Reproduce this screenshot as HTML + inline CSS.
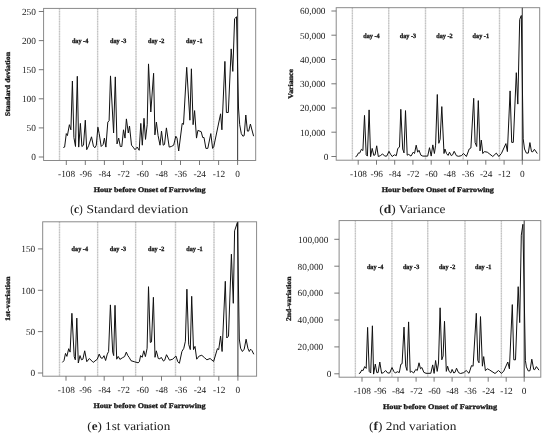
<!DOCTYPE html>
<html><head><meta charset="utf-8"><title>Figure</title>
<style>
html,body{margin:0;padding:0;background:#fff}
svg{display:block}
text{font-family:"Liberation Serif","DejaVu Serif",serif;fill:#1a1a1a;text-rendering:geometricPrecision}
.tl{font-size:9.3px}
.day{font-size:6.5px;font-weight:bold;stroke:#1a1a1a;stroke-width:0.3}
.al{font-size:7.1px;font-weight:bold;stroke:#1a1a1a;stroke-width:0.32}
.cap{font-size:12px;fill:#222}
.box{fill:none;stroke:#858585;stroke-width:0.95}
.dot{stroke:#dcdcdc;stroke-width:1.4}
.dot2{stroke:#c2c2c2;stroke-width:1.2;stroke-dasharray:1.25 1.25}
.zero{stroke:#4a4a4a;stroke-width:1.15}
.tick{stroke:#606060;stroke-width:0.85}
.ser{fill:none;stroke:#111;stroke-width:1.0;stroke-linejoin:miter;stroke-miterlimit:10}
</style></head><body>
<svg width="550" height="437" viewBox="0 0 550 437">
<rect width="550" height="437" fill="#fff"/>
<g class="ch">
<line x1="59.5" y1="8.4" x2="59.5" y2="160.5" class="dot"/>
<line x1="59.5" y1="8.4" x2="59.5" y2="160.5" class="dot2"/>
<line x1="97.6" y1="8.4" x2="97.6" y2="160.5" class="dot"/>
<line x1="97.6" y1="8.4" x2="97.6" y2="160.5" class="dot2"/>
<line x1="136.0" y1="8.4" x2="136.0" y2="160.5" class="dot"/>
<line x1="136.0" y1="8.4" x2="136.0" y2="160.5" class="dot2"/>
<line x1="175.2" y1="8.4" x2="175.2" y2="160.5" class="dot"/>
<line x1="175.2" y1="8.4" x2="175.2" y2="160.5" class="dot2"/>
<line x1="213.6" y1="8.4" x2="213.6" y2="160.5" class="dot"/>
<line x1="213.6" y1="8.4" x2="213.6" y2="160.5" class="dot2"/>
<rect x="43.6" y="8.4" width="212.1" height="152.1" class="box"/>
<line x1="237.6" y1="8.4" x2="237.6" y2="160.5" class="zero"/>
<line x1="38.8" y1="157.0" x2="43.6" y2="157.0" class="tick"/>
<text x="35.9" y="160.3" class="tl" font-size="8.9" text-anchor="end">0</text>
<line x1="38.8" y1="127.9" x2="43.6" y2="127.9" class="tick"/>
<text x="35.9" y="131.2" class="tl" font-size="8.9" text-anchor="end">50</text>
<line x1="38.8" y1="98.8" x2="43.6" y2="98.8" class="tick"/>
<text x="35.9" y="102.1" class="tl" font-size="8.9" text-anchor="end">100</text>
<line x1="38.8" y1="69.7" x2="43.6" y2="69.7" class="tick"/>
<text x="35.9" y="73.0" class="tl" font-size="8.9" text-anchor="end">150</text>
<line x1="38.8" y1="40.6" x2="43.6" y2="40.6" class="tick"/>
<text x="35.9" y="43.9" class="tl" font-size="8.9" text-anchor="end">200</text>
<line x1="38.8" y1="11.5" x2="43.6" y2="11.5" class="tick"/>
<text x="35.9" y="14.8" class="tl" font-size="8.9" text-anchor="end">250</text>
<line x1="66.3" y1="160.5" x2="66.3" y2="165.0" class="tick"/>
<text x="66.6" y="176.6" class="tl" font-size="8.7" text-anchor="middle">-108</text>
<line x1="85.3" y1="160.5" x2="85.3" y2="165.0" class="tick"/>
<text x="85.6" y="176.6" class="tl" font-size="8.7" text-anchor="middle">-96</text>
<line x1="104.4" y1="160.5" x2="104.4" y2="165.0" class="tick"/>
<text x="104.7" y="176.6" class="tl" font-size="8.7" text-anchor="middle">-84</text>
<line x1="123.4" y1="160.5" x2="123.4" y2="165.0" class="tick"/>
<text x="123.7" y="176.6" class="tl" font-size="8.7" text-anchor="middle">-72</text>
<line x1="142.4" y1="160.5" x2="142.4" y2="165.0" class="tick"/>
<text x="142.7" y="176.6" class="tl" font-size="8.7" text-anchor="middle">-60</text>
<line x1="161.5" y1="160.5" x2="161.5" y2="165.0" class="tick"/>
<text x="161.8" y="176.6" class="tl" font-size="8.7" text-anchor="middle">-48</text>
<line x1="180.5" y1="160.5" x2="180.5" y2="165.0" class="tick"/>
<text x="180.8" y="176.6" class="tl" font-size="8.7" text-anchor="middle">-36</text>
<line x1="199.5" y1="160.5" x2="199.5" y2="165.0" class="tick"/>
<text x="199.8" y="176.6" class="tl" font-size="8.7" text-anchor="middle">-24</text>
<line x1="218.6" y1="160.5" x2="218.6" y2="165.0" class="tick"/>
<text x="218.9" y="176.6" class="tl" font-size="8.7" text-anchor="middle">-12</text>
<line x1="237.6" y1="160.5" x2="237.6" y2="165.0" class="tick"/>
<text x="237.6" y="176.6" class="tl" font-size="8.7" text-anchor="middle">0</text>
<text x="71.9" y="42.6" class="day" textLength="16.4" lengthAdjust="spacingAndGlyphs">day -4</text>
<text x="110.0" y="42.6" class="day" textLength="16.4" lengthAdjust="spacingAndGlyphs">day -3</text>
<text x="148.0" y="42.6" class="day" textLength="16.4" lengthAdjust="spacingAndGlyphs">day -2</text>
<text x="186.1" y="42.6" class="day" textLength="16.4" lengthAdjust="spacingAndGlyphs">day -1</text>
<text x="93.8" y="192.0" class="al" textLength="111.7" lengthAdjust="spacingAndGlyphs">Hour before Onset of Farrowing</text>
<text transform="translate(9.9,116.2) rotate(-90)" class="al" textLength="64.3" lengthAdjust="spacingAndGlyphs">Standard deviation</text>
<text x="70.3" y="212.8" class="cap" textLength="12.5" lengthAdjust="spacingAndGlyphs">(<tspan font-weight="bold">c</tspan>)</text>
<text x="86.4" y="212.8" class="cap" textLength="101.8" lengthAdjust="spacingAndGlyphs">Standard deviation</text>
<path d="M63.3,147.5 L64.6,147.1 L66.3,133.6 L67.4,135.6 L69.4,124.7 L70.9,129.8 L72.4,81.0 L73.9,137.5 L75.5,146.5 L77.3,76.3 L78.7,147.1 L80.4,123.4 L81.9,146.5 L83.5,145.2 L85.3,120.2 L86.7,149.7 L88.6,145.8 L91.5,136.8 L93.5,146.5 L95.0,147.7 L96.3,145.2 L97.9,127.2 L99.2,133.6 L101.2,146.5 L103.1,144.5 L104.4,138.1 L105.9,147.1 L107.8,122.1 L109.1,120.8 L110.5,75.9 L113.6,133.0 L115.3,76.9 L117.0,143.9 L118.7,138.1 L120.3,146.5 L121.8,146.5 L123.5,129.8 L125.0,138.1 L126.4,118.9 L128.3,133.0 L129.5,126.0 L131.5,145.2 L133.1,147.1 L135.0,149.7 L137.2,147.1 L139.2,150.3 L140.8,123.4 L142.3,145.2 L144.0,118.3 L145.5,139.4 L147.2,124.7 L148.5,63.9 L150.8,112.0 L153.6,73.3 L154.9,134.9 L156.4,122.1 L158.1,135.6 L160.0,145.2 L161.5,131.1 L163.2,145.2 L164.5,144.5 L166.4,127.9 L169.2,147.1 L171.3,146.5 L173.7,145.2 L175.8,136.2 L177.0,138.1 L178.7,151.0 L182.2,123.4 L183.5,124.4 L186.7,67.3 L189.9,120.2 L191.4,68.8 L193.1,124.7 L194.6,110.6 L196.5,138.1 L197.9,130.4 L201.2,131.7 L202.7,137.5 L204.0,137.5 L205.9,148.4 L207.8,148.4 L210.8,133.6 L212.6,148.4 L213.8,146.5 L220.6,113.8 L221.9,129.8 L224.9,61.4 L226.4,112.5 L228.3,112.5 L231.2,48.9 L232.8,71.4 L234.6,18.7 L236.5,16.8 L238.5,108.0 L239.7,124.7 L241.3,133.6 L242.9,136.2 L244.2,135.6 L245.8,115.0 L247.4,131.1 L248.7,131.1 L250.4,124.0 L253.6,136.2" class="ser"/>
</g>
<g class="ch">
<line x1="352.4" y1="7.7" x2="352.4" y2="160.2" class="dot"/>
<line x1="352.4" y1="7.7" x2="352.4" y2="160.2" class="dot2"/>
<line x1="388.7" y1="7.7" x2="388.7" y2="160.2" class="dot"/>
<line x1="388.7" y1="7.7" x2="388.7" y2="160.2" class="dot2"/>
<line x1="425.5" y1="7.7" x2="425.5" y2="160.2" class="dot"/>
<line x1="425.5" y1="7.7" x2="425.5" y2="160.2" class="dot2"/>
<line x1="463.2" y1="7.7" x2="463.2" y2="160.2" class="dot"/>
<line x1="463.2" y1="7.7" x2="463.2" y2="160.2" class="dot2"/>
<line x1="499.5" y1="7.7" x2="499.5" y2="160.2" class="dot"/>
<line x1="499.5" y1="7.7" x2="499.5" y2="160.2" class="dot2"/>
<rect x="336.2" y="7.7" width="203.5" height="152.5" class="box"/>
<line x1="522.3" y1="7.7" x2="522.3" y2="160.2" class="zero"/>
<line x1="331.4" y1="156.5" x2="336.2" y2="156.5" class="tick"/>
<text x="328.5" y="159.8" class="tl" font-size="9.3" text-anchor="end">0</text>
<line x1="331.4" y1="132.2" x2="336.2" y2="132.2" class="tick"/>
<text x="325.5" y="135.6" class="tl" font-size="9.3" text-anchor="end">10,000</text>
<line x1="331.4" y1="108.0" x2="336.2" y2="108.0" class="tick"/>
<text x="325.5" y="111.3" class="tl" font-size="9.3" text-anchor="end">20,000</text>
<line x1="331.4" y1="83.8" x2="336.2" y2="83.8" class="tick"/>
<text x="325.5" y="87.0" class="tl" font-size="9.3" text-anchor="end">30,000</text>
<line x1="331.4" y1="59.5" x2="336.2" y2="59.5" class="tick"/>
<text x="325.5" y="62.8" class="tl" font-size="9.3" text-anchor="end">40,000</text>
<line x1="331.4" y1="35.2" x2="336.2" y2="35.2" class="tick"/>
<text x="325.5" y="38.5" class="tl" font-size="9.3" text-anchor="end">50,000</text>
<line x1="331.4" y1="11.0" x2="336.2" y2="11.0" class="tick"/>
<text x="325.5" y="14.3" class="tl" font-size="9.3" text-anchor="end">60,000</text>
<line x1="358.2" y1="160.2" x2="358.2" y2="164.7" class="tick"/>
<text x="358.5" y="176.6" class="tl" font-size="9.1" text-anchor="middle">-108</text>
<line x1="376.5" y1="160.2" x2="376.5" y2="164.7" class="tick"/>
<text x="376.8" y="176.6" class="tl" font-size="9.1" text-anchor="middle">-96</text>
<line x1="394.7" y1="160.2" x2="394.7" y2="164.7" class="tick"/>
<text x="395.0" y="176.6" class="tl" font-size="9.1" text-anchor="middle">-84</text>
<line x1="412.9" y1="160.2" x2="412.9" y2="164.7" class="tick"/>
<text x="413.2" y="176.6" class="tl" font-size="9.1" text-anchor="middle">-72</text>
<line x1="431.2" y1="160.2" x2="431.2" y2="164.7" class="tick"/>
<text x="431.5" y="176.6" class="tl" font-size="9.1" text-anchor="middle">-60</text>
<line x1="449.4" y1="160.2" x2="449.4" y2="164.7" class="tick"/>
<text x="449.7" y="176.6" class="tl" font-size="9.1" text-anchor="middle">-48</text>
<line x1="467.6" y1="160.2" x2="467.6" y2="164.7" class="tick"/>
<text x="467.9" y="176.6" class="tl" font-size="9.1" text-anchor="middle">-36</text>
<line x1="485.8" y1="160.2" x2="485.8" y2="164.7" class="tick"/>
<text x="486.1" y="176.6" class="tl" font-size="9.1" text-anchor="middle">-24</text>
<line x1="504.1" y1="160.2" x2="504.1" y2="164.7" class="tick"/>
<text x="504.4" y="176.6" class="tl" font-size="9.1" text-anchor="middle">-12</text>
<line x1="522.3" y1="160.2" x2="522.3" y2="164.7" class="tick"/>
<text x="522.3" y="176.6" class="tl" font-size="9.1" text-anchor="middle">0</text>
<text x="363.3" y="37.6" class="day" textLength="16.4" lengthAdjust="spacingAndGlyphs">day -4</text>
<text x="399.7" y="37.6" class="day" textLength="16.4" lengthAdjust="spacingAndGlyphs">day -3</text>
<text x="436.2" y="37.6" class="day" textLength="16.4" lengthAdjust="spacingAndGlyphs">day -2</text>
<text x="472.6" y="37.6" class="day" textLength="16.4" lengthAdjust="spacingAndGlyphs">day -1</text>
<text x="381.8" y="192.0" class="al" textLength="112" lengthAdjust="spacingAndGlyphs">Hour before Onset of Farrowing</text>
<text transform="translate(293.4,98.8) rotate(-90)" class="al" textLength="29.9" lengthAdjust="spacingAndGlyphs">Variance</text>
<text x="379.3" y="212.8" class="cap" textLength="66.2" lengthAdjust="spacingAndGlyphs">(<tspan font-weight="bold">d</tspan>) Variance</text>
<path d="M355.5,156.7 L356.8,156.1 L358.5,152.9 L359.7,153.1 L361.4,149.3 L362.9,150.6 L364.5,115.4 L366.2,154.8 L367.4,156.1 L369.1,109.9 L370.6,156.7 L372.2,148.4 L373.8,155.4 L375.1,154.8 L376.7,145.8 L378.3,156.5 L380.3,155.7 L382.6,153.9 L384.7,156.1 L386.7,156.1 L389.0,151.3 L390.5,154.2 L392.2,156.5 L394.4,154.8 L396.3,155.7 L397.8,148.4 L399.5,147.1 L400.8,109.3 L402.7,149.0 L404.0,152.9 L405.5,110.6 L407.2,155.2 L408.7,154.4 L411.0,156.1 L413.2,152.2 L414.5,153.5 L416.2,145.2 L417.7,152.2 L419.0,150.3 L420.9,155.2 L422.8,156.1 L427.7,156.1 L429.5,147.7 L431.2,156.1 L432.8,144.9 L434.4,153.5 L435.6,145.2 L437.3,94.5 L438.8,143.3 L440.1,139.4 L441.8,106.6 L444.0,153.5 L444.9,149.0 L446.5,153.5 L448.1,155.4 L449.5,152.2 L451.3,155.7 L452.6,154.8 L454.2,151.3 L456.4,155.7 L458.5,156.3 L461.3,155.7 L463.6,153.5 L466.4,156.5 L469.2,149.0 L470.9,148.0 L473.7,98.3 L475.1,142.6 L476.7,146.5 L478.3,100.6 L480.0,150.9 L481.3,140.1 L482.8,153.5 L484.4,151.6 L487.3,152.2 L489.9,154.2 L492.8,156.5 L496.3,153.1 L498.8,156.5 L501.4,153.5 L505.9,143.6 L507.4,151.6 L510.1,90.9 L511.7,142.4 L513.3,142.4 L516.3,72.7 L517.8,104.1 L519.7,19.4 L521.3,15.5 L523.2,138.8 L524.5,149.0 L526.4,153.1 L528.3,153.1 L529.9,142.6 L531.5,151.6 L532.8,151.8 L534.4,149.3 L537.3,153.5" class="ser"/>
</g>
<g class="ch">
<line x1="59.5" y1="221.8" x2="59.5" y2="376.2" class="dot"/>
<line x1="59.5" y1="221.8" x2="59.5" y2="376.2" class="dot2"/>
<line x1="97.6" y1="221.8" x2="97.6" y2="376.2" class="dot"/>
<line x1="97.6" y1="221.8" x2="97.6" y2="376.2" class="dot2"/>
<line x1="135.6" y1="221.8" x2="135.6" y2="376.2" class="dot"/>
<line x1="135.6" y1="221.8" x2="135.6" y2="376.2" class="dot2"/>
<line x1="175.5" y1="221.8" x2="175.5" y2="376.2" class="dot"/>
<line x1="175.5" y1="221.8" x2="175.5" y2="376.2" class="dot2"/>
<line x1="214.0" y1="221.8" x2="214.0" y2="376.2" class="dot"/>
<line x1="214.0" y1="221.8" x2="214.0" y2="376.2" class="dot2"/>
<rect x="42.7" y="221.8" width="213.9" height="154.4" class="box"/>
<line x1="237.9" y1="221.8" x2="237.9" y2="376.2" class="zero"/>
<line x1="37.9" y1="373.0" x2="42.7" y2="373.0" class="tick"/>
<text x="35.2" y="376.3" class="tl" font-size="8.8" text-anchor="end">0</text>
<line x1="37.9" y1="331.6" x2="42.7" y2="331.6" class="tick"/>
<text x="35.2" y="334.9" class="tl" font-size="8.8" text-anchor="end">50</text>
<line x1="37.9" y1="290.3" x2="42.7" y2="290.3" class="tick"/>
<text x="35.2" y="293.6" class="tl" font-size="8.8" text-anchor="end">100</text>
<line x1="37.9" y1="248.9" x2="42.7" y2="248.9" class="tick"/>
<text x="35.2" y="252.2" class="tl" font-size="8.8" text-anchor="end">150</text>
<line x1="66.0" y1="376.2" x2="66.0" y2="380.7" class="tick"/>
<text x="66.3" y="392.7" class="tl" font-size="8.6" text-anchor="middle">-108</text>
<line x1="85.1" y1="376.2" x2="85.1" y2="380.7" class="tick"/>
<text x="85.4" y="392.7" class="tl" font-size="8.6" text-anchor="middle">-96</text>
<line x1="104.2" y1="376.2" x2="104.2" y2="380.7" class="tick"/>
<text x="104.5" y="392.7" class="tl" font-size="8.6" text-anchor="middle">-84</text>
<line x1="123.3" y1="376.2" x2="123.3" y2="380.7" class="tick"/>
<text x="123.6" y="392.7" class="tl" font-size="8.6" text-anchor="middle">-72</text>
<line x1="142.4" y1="376.2" x2="142.4" y2="380.7" class="tick"/>
<text x="142.7" y="392.7" class="tl" font-size="8.6" text-anchor="middle">-60</text>
<line x1="161.5" y1="376.2" x2="161.5" y2="380.7" class="tick"/>
<text x="161.8" y="392.7" class="tl" font-size="8.6" text-anchor="middle">-48</text>
<line x1="180.6" y1="376.2" x2="180.6" y2="380.7" class="tick"/>
<text x="180.9" y="392.7" class="tl" font-size="8.6" text-anchor="middle">-36</text>
<line x1="199.7" y1="376.2" x2="199.7" y2="380.7" class="tick"/>
<text x="200.0" y="392.7" class="tl" font-size="8.6" text-anchor="middle">-24</text>
<line x1="218.8" y1="376.2" x2="218.8" y2="380.7" class="tick"/>
<text x="219.1" y="392.7" class="tl" font-size="8.6" text-anchor="middle">-12</text>
<line x1="237.9" y1="376.2" x2="237.9" y2="380.7" class="tick"/>
<text x="237.9" y="392.7" class="tl" font-size="8.6" text-anchor="middle">0</text>
<text x="71.6" y="251.4" class="day" textLength="16.4" lengthAdjust="spacingAndGlyphs">day -4</text>
<text x="109.8" y="251.4" class="day" textLength="16.4" lengthAdjust="spacingAndGlyphs">day -3</text>
<text x="148.0" y="251.4" class="day" textLength="16.4" lengthAdjust="spacingAndGlyphs">day -2</text>
<text x="186.2" y="251.4" class="day" textLength="16.4" lengthAdjust="spacingAndGlyphs">day -1</text>
<text x="93.5" y="408.3" class="al" textLength="112" lengthAdjust="spacingAndGlyphs">Hour before Onset of Farrowing</text>
<text transform="translate(9.5,320.9) rotate(-90)" class="al" textLength="44.5" lengthAdjust="spacingAndGlyphs">1st-variation</text>
<text x="87.3" y="430.1" class="cap" textLength="82.9" lengthAdjust="spacingAndGlyphs">(<tspan font-weight="bold">e</tspan>) 1st variation</text>
<path d="M62.4,362.4 L64.0,360.5 L65.5,353.4 L66.9,356.4 L68.7,348.7 L70.1,352.1 L71.9,313.3 L74.2,356.6 L75.3,359.8 L76.8,318.1 L78.3,363.0 L80.0,355.6 L81.5,359.8 L82.9,359.2 L84.7,350.8 L86.8,361.7 L89.4,358.5 L93.2,362.4 L97.3,359.2 L99.2,354.1 L100.9,357.9 L102.4,358.3 L104.0,355.7 L105.6,360.5 L107.3,354.1 L108.6,351.5 L110.4,304.9 L112.7,352.1 L113.7,355.6 L115.0,305.3 L116.7,359.2 L118.2,356.4 L119.9,359.4 L122.7,357.6 L124.6,356.6 L126.3,352.1 L127.8,355.6 L129.1,357.3 L131.0,360.7 L134.2,361.7 L138.1,362.8 L139.4,361.7 L140.6,355.6 L142.2,357.3 L143.8,350.8 L145.4,356.6 L147.1,348.3 L148.5,286.7 L150.3,342.5 L151.5,341.9 L153.4,297.3 L155.0,357.3 L156.3,350.8 L158.3,358.5 L159.9,358.9 L161.2,357.3 L163.5,361.1 L164.7,360.2 L166.5,354.7 L169.5,360.2 L172.7,359.2 L175.9,356.0 L177.8,361.7 L179.4,363.3 L181.9,351.5 L183.8,348.3 L185.4,341.2 L186.9,289.2 L188.7,344.4 L190.3,349.6 L191.7,296.3 L193.5,349.6 L195.0,346.4 L196.7,359.2 L199.2,356.0 L201.8,355.3 L204.4,357.6 L206.9,359.8 L210.1,358.5 L213.6,361.5 L217.4,348.7 L218.7,349.6 L220.6,336.1 L222.1,351.5 L225.3,281.3 L226.8,338.0 L228.5,336.1 L231.4,254.2 L233.3,303.3 L234.6,230.8 L237.4,222.5 L239.3,339.0 L240.6,348.3 L242.4,351.5 L244.2,349.2 L246.1,339.2 L247.9,348.3 L249.3,351.5 L250.6,349.2 L252.0,350.6 L253.8,354.3" class="ser"/>
</g>
<g class="ch">
<line x1="355.4" y1="220.6" x2="355.4" y2="377.2" class="dot"/>
<line x1="355.4" y1="220.6" x2="355.4" y2="377.2" class="dot2"/>
<line x1="391.9" y1="220.6" x2="391.9" y2="377.2" class="dot"/>
<line x1="391.9" y1="220.6" x2="391.9" y2="377.2" class="dot2"/>
<line x1="427.7" y1="220.6" x2="427.7" y2="377.2" class="dot"/>
<line x1="427.7" y1="220.6" x2="427.7" y2="377.2" class="dot2"/>
<line x1="465.0" y1="220.6" x2="465.0" y2="377.2" class="dot"/>
<line x1="465.0" y1="220.6" x2="465.0" y2="377.2" class="dot2"/>
<line x1="501.4" y1="220.6" x2="501.4" y2="377.2" class="dot"/>
<line x1="501.4" y1="220.6" x2="501.4" y2="377.2" class="dot2"/>
<rect x="339.1" y="220.6" width="201.7" height="156.6" class="box"/>
<line x1="524.2" y1="220.6" x2="524.2" y2="377.2" class="zero"/>
<line x1="334.3" y1="373.8" x2="339.1" y2="373.8" class="tick"/>
<text x="331.3" y="377.1" class="tl" font-size="9.4" text-anchor="end">0</text>
<line x1="334.3" y1="346.9" x2="339.1" y2="346.9" class="tick"/>
<text x="323.2" y="350.2" class="tl" font-size="9.4" text-anchor="end">20,000</text>
<line x1="334.3" y1="320.0" x2="339.1" y2="320.0" class="tick"/>
<text x="323.2" y="323.3" class="tl" font-size="9.4" text-anchor="end">40,000</text>
<line x1="334.3" y1="293.1" x2="339.1" y2="293.1" class="tick"/>
<text x="323.2" y="296.4" class="tl" font-size="9.4" text-anchor="end">60,000</text>
<line x1="334.3" y1="266.2" x2="339.1" y2="266.2" class="tick"/>
<text x="323.2" y="269.5" class="tl" font-size="9.4" text-anchor="end">80,000</text>
<line x1="334.3" y1="239.3" x2="339.1" y2="239.3" class="tick"/>
<text x="328.3" y="242.6" class="tl" font-size="9.4" text-anchor="end">100,000</text>
<line x1="362.0" y1="377.2" x2="362.0" y2="381.7" class="tick"/>
<text x="362.3" y="394.1" class="tl" font-size="9.2" text-anchor="middle">-108</text>
<line x1="380.0" y1="377.2" x2="380.0" y2="381.7" class="tick"/>
<text x="380.3" y="394.1" class="tl" font-size="9.2" text-anchor="middle">-96</text>
<line x1="398.0" y1="377.2" x2="398.0" y2="381.7" class="tick"/>
<text x="398.3" y="394.1" class="tl" font-size="9.2" text-anchor="middle">-84</text>
<line x1="416.1" y1="377.2" x2="416.1" y2="381.7" class="tick"/>
<text x="416.4" y="394.1" class="tl" font-size="9.2" text-anchor="middle">-72</text>
<line x1="434.1" y1="377.2" x2="434.1" y2="381.7" class="tick"/>
<text x="434.4" y="394.1" class="tl" font-size="9.2" text-anchor="middle">-60</text>
<line x1="452.1" y1="377.2" x2="452.1" y2="381.7" class="tick"/>
<text x="452.4" y="394.1" class="tl" font-size="9.2" text-anchor="middle">-48</text>
<line x1="470.1" y1="377.2" x2="470.1" y2="381.7" class="tick"/>
<text x="470.4" y="394.1" class="tl" font-size="9.2" text-anchor="middle">-36</text>
<line x1="488.2" y1="377.2" x2="488.2" y2="381.7" class="tick"/>
<text x="488.5" y="394.1" class="tl" font-size="9.2" text-anchor="middle">-24</text>
<line x1="506.2" y1="377.2" x2="506.2" y2="381.7" class="tick"/>
<text x="506.5" y="394.1" class="tl" font-size="9.2" text-anchor="middle">-12</text>
<line x1="524.2" y1="377.2" x2="524.2" y2="381.7" class="tick"/>
<text x="524.2" y="394.1" class="tl" font-size="9.2" text-anchor="middle">0</text>
<text x="366.9" y="268.5" class="day" textLength="16.4" lengthAdjust="spacingAndGlyphs">day -4</text>
<text x="402.9" y="268.5" class="day" textLength="16.4" lengthAdjust="spacingAndGlyphs">day -3</text>
<text x="438.9" y="268.5" class="day" textLength="16.4" lengthAdjust="spacingAndGlyphs">day -2</text>
<text x="475.0" y="268.5" class="day" textLength="16.4" lengthAdjust="spacingAndGlyphs">day -1</text>
<text x="382.9" y="408.8" class="al" textLength="114.2" lengthAdjust="spacingAndGlyphs">Hour before Onset of Farrowing</text>
<text transform="translate(291.4,321.1) rotate(-90)" class="al" textLength="44.5" lengthAdjust="spacingAndGlyphs">2nd-variation</text>
<text x="369.1" y="430.0" class="cap" textLength="87.3" lengthAdjust="spacingAndGlyphs">(<tspan font-weight="bold">f</tspan>) 2nd variation</text>
<path d="M358.9,373.5 L360.2,373.0 L361.7,370.1 L363.1,370.5 L364.7,366.6 L366.2,368.4 L367.6,327.4 L369.2,371.4 L370.7,373.0 L372.4,325.8 L373.6,374.1 L375.3,364.1 L376.8,372.6 L378.1,372.6 L379.8,362.0 L381.6,373.3 L383.6,372.6 L385.6,370.5 L387.7,373.0 L389.7,373.0 L392.0,367.5 L393.8,371.4 L395.4,373.0 L397.4,371.7 L399.3,372.6 L400.8,364.3 L402.1,363.7 L404.0,327.1 L405.7,366.2 L407.0,370.5 L408.6,321.9 L410.2,372.3 L411.7,371.4 L413.6,373.0 L415.8,369.4 L417.3,370.5 L419.0,362.8 L420.5,368.8 L421.9,367.5 L423.8,372.3 L426.0,373.3 L430.8,373.3 L432.7,364.9 L434.1,373.4 L435.6,360.5 L437.2,371.4 L438.5,363.0 L440.1,307.8 L441.8,359.8 L443.1,356.0 L444.5,321.3 L446.3,371.4 L447.6,366.2 L449.1,371.4 L450.8,373.0 L452.1,369.4 L453.8,373.0 L455.1,372.3 L456.5,368.2 L458.5,372.6 L460.6,373.5 L463.8,372.6 L466.2,370.5 L469.0,373.3 L471.5,365.6 L473.1,366.2 L476.3,313.3 L477.8,360.5 L479.0,362.8 L480.5,316.6 L482.4,366.2 L483.7,356.6 L485.4,370.7 L487.3,368.8 L489.2,369.7 L495.0,373.5 L498.5,370.5 L501.4,373.3 L503.6,371.4 L507.8,362.0 L509.4,368.8 L512.3,304.6 L513.8,359.8 L515.5,359.8 L518.2,286.7 L519.7,322.6 L521.3,235.2 L522.9,224.3 L525.4,360.5 L526.4,366.9 L528.3,371.0 L530.0,370.7 L531.8,359.2 L533.7,369.4 L534.7,369.7 L536.4,366.6 L539.0,370.2" class="ser"/>
</g>
</svg>
</body></html>
